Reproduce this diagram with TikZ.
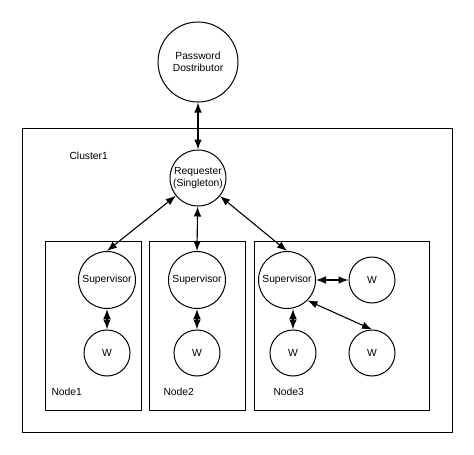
\documentclass[tikz,border=0pt]{standalone}
\usepackage{fontspec}
\setmainfont{Liberation Sans}
\usetikzlibrary{arrows.meta}

\tikzset{
  every agent/.style={circle, draw, line width=1pt, inner sep=0pt, align=center,
    font=\fontsize{10.3}{12}\selectfont},
  agent big/.style={minimum size=80pt},
  agent super/.style={minimum size=57pt},
  agent worker/.style={minimum size=46pt},
  frame box/.style={draw, line width=1pt},
  frame label/.style={anchor=west, font=\fontsize{10.3}{12}\selectfont},
  link/.style={<->, line width=1.1pt}
}

\begin{document}
\begin{tikzpicture}[x=1pt, y=-1pt, >={Latex[length=10pt,width=7.5pt]}]
\useasboundingbox (0,0) rectangle (474,455);

% define cluster and node frames
\draw [frame box] (22,128) rectangle (452,432);
\node [frame label] (label-0) at (66,156) {Cluster1};

\foreach \a/\b/\t [count=\i] in {45/141/48, 149/245/160, 254/429/270}
{
  \draw [frame box] (\a,241) rectangle (\b,410);
  \node [frame label] (label-\i) at (\t,392) {Node\i};
}

% define agents
\node [every agent, agent big] (pd) at (198,62) {Password\\Dostributor};
\node [every agent, agent super, minimum size=56pt] (req) at (198,178) {Requester\\(Singleton)};

\foreach \x [count=\i] in {107,197,287}
  \node [every agent, agent super] (sup-\i) at (\x,280) {Supervisor};

\foreach \x/\y [count=\i] in {107/353, 197/353, 293/353, 372/280, 372/353}
  \node [every agent, agent worker] (w-\i) at (\x,\y) {W};

% connect distributor, requester and supervisors
\draw [link] (pd) -- (req);
\foreach \i in {1,...,3}
  \draw [link] (req) -- (sup-\i.north);

% connect supervisors to workers
\foreach \i in {1,2}
  \draw [link] (sup-\i) -- (w-\i);
\draw [link] (sup-3.south -| w-3.north) -- (w-3.north);
\draw [link] (sup-3) -- (w-4);
\draw [link] (sup-3.-45) -- (w-5.north);

\end{tikzpicture}
\end{document}
